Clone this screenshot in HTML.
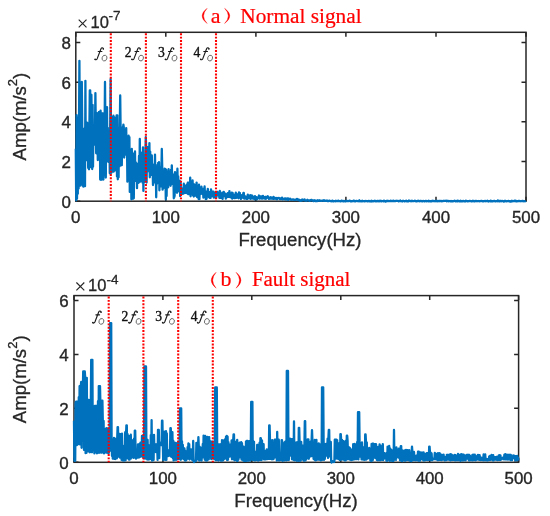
<!DOCTYPE html>
<html><head><meta charset="utf-8"><style>
html,body{margin:0;padding:0;background:#fff;width:550px;height:516px;overflow:hidden}
svg{display:block;will-change:transform}
</style></head><body>
<svg width="550" height="516" viewBox="0 0 550 516">
<rect width="550" height="516" fill="#fff"/>
<!-- top plot -->
<rect x="75.8" y="32.3" width="450.2" height="168.9" fill="none" stroke="#262626" stroke-width="1.5"/>
<path d="M75.8 201.2h4.5M526.0 201.2h-4.5M75.8 161.5h4.5M526.0 161.5h-4.5M75.8 121.8h4.5M526.0 121.8h-4.5M75.8 82.2h4.5M526.0 82.2h-4.5M75.8 42.5h4.5M526.0 42.5h-4.5M75.8 201.2v-4.5M75.8 32.3v4.5M165.8 201.2v-4.5M165.8 32.3v4.5M255.9 201.2v-4.5M255.9 32.3v4.5M345.9 201.2v-4.5M345.9 32.3v4.5M436.0 201.2v-4.5M436.0 32.3v4.5M526.0 201.2v-4.5M526.0 32.3v4.5" stroke="#262626" stroke-width="1.5" fill="none"/>
<path d="M75.80 148.82 76.20 200.35 76.60 115.11 77.00 198.72 77.40 117.50 77.80 193.85 78.20 117.36 78.60 188.50 79.00 127.47 79.40 60.85 79.80 128.06 80.20 185.67 80.60 129.09 81.00 183.97 81.40 129.35 81.80 81.95 82.20 126.51 82.60 185.72 83.00 161.27 83.40 186.66 83.80 128.87 84.20 185.36 84.60 129.17 85.00 186.21 85.40 80.85 85.80 160.26 86.20 128.31 86.60 159.41 87.00 122.68 87.40 160.13 87.80 123.15 88.20 167.87 88.60 127.21 89.00 169.30 89.40 128.26 89.80 90.45 90.20 90.45 90.60 167.00 91.00 126.47 91.40 94.85 91.80 130.81 92.20 169.11 92.60 104.95 93.00 166.72 93.40 131.32 93.80 144.78 94.20 129.58 94.60 144.51 95.00 127.55 95.40 93.05 95.80 127.70 96.20 153.23 96.60 113.15 97.00 113.15 97.40 125.54 97.80 160.06 98.20 126.12 98.60 159.42 99.00 111.86 99.40 159.51 99.80 111.61 100.20 179.50 100.60 110.70 101.00 179.76 101.40 113.85 101.80 179.72 102.20 113.35 102.60 179.19 103.00 113.36 103.40 179.55 103.80 119.88 104.20 174.71 104.60 127.65 105.00 81.95 105.40 128.00 105.80 177.54 106.20 127.05 106.60 159.50 107.00 107.05 107.40 158.81 107.80 127.82 108.20 161.84 108.60 139.17 109.00 160.18 109.40 139.73 109.80 173.26 110.20 126.78 110.60 79.15 111.00 129.04 111.40 172.81 111.80 117.81 112.20 170.74 112.60 117.02 113.00 171.49 113.40 115.64 113.80 171.51 114.20 117.21 114.60 169.93 115.00 117.87 115.40 170.26 115.80 117.58 116.20 170.27 116.60 115.46 117.00 176.42 117.40 115.37 117.80 179.31 118.20 128.41 118.60 177.36 119.00 128.80 119.40 166.58 119.80 128.55 120.20 95.45 120.60 128.52 121.00 165.45 121.40 127.40 121.80 165.20 122.20 128.43 122.60 155.21 123.00 128.11 123.40 124.65 123.80 127.46 124.20 157.51 124.60 136.17 125.00 154.29 125.40 135.96 125.80 154.68 126.20 128.08 126.60 154.68 127.00 143.49 127.40 181.72 127.80 143.15 128.20 168.41 128.60 135.68 129.00 173.12 129.40 137.18 129.80 191.93 130.20 154.15 130.60 179.48 131.00 154.48 131.40 199.35 131.80 148.87 132.20 184.76 132.60 153.63 133.00 198.85 133.40 153.72 133.80 198.24 134.20 154.09 134.60 180.51 135.00 151.42 135.40 180.88 135.80 162.37 136.20 178.08 136.60 163.30 137.00 188.17 137.40 167.09 137.80 182.59 138.20 167.13 138.60 182.73 139.00 155.97 139.40 181.89 139.80 138.95 140.20 181.61 140.60 157.96 141.00 180.76 141.40 157.74 141.80 180.95 142.20 152.34 142.60 182.68 143.00 147.36 143.40 190.94 143.80 154.92 144.20 182.15 144.60 155.04 145.00 181.43 145.40 155.14 145.80 137.15 146.20 148.46 146.60 182.53 147.00 147.79 147.40 171.62 147.80 147.19 148.20 167.82 148.60 149.18 149.00 168.26 149.40 143.09 149.80 177.23 150.20 151.55 150.60 173.60 151.00 160.17 151.40 174.95 151.80 155.49 152.20 174.87 152.60 165.82 153.00 185.05 153.40 165.19 153.80 182.08 154.20 164.39 154.60 182.46 155.00 154.68 155.40 182.84 155.80 165.01 156.20 197.35 156.60 170.39 157.00 183.60 157.40 170.17 157.80 183.21 158.20 162.82 158.60 183.33 159.00 162.19 159.40 190.30 159.80 168.15 160.20 184.54 160.60 167.27 161.00 186.34 161.40 171.13 161.80 148.95 162.20 166.87 162.60 189.66 163.00 174.69 163.40 188.26 163.80 174.65 164.20 187.53 164.60 168.66 165.00 186.93 165.40 168.84 165.80 199.35 166.20 169.96 166.60 195.99 167.00 171.80 167.40 186.17 167.80 172.80 168.20 187.30 168.60 169.17 169.00 183.24 169.40 173.24 169.80 183.45 170.20 172.81 170.60 185.73 171.00 169.87 171.40 184.12 171.80 165.39 172.20 180.01 172.60 174.11 173.00 181.08 173.40 174.59 173.80 198.35 174.20 177.21 174.60 196.63 175.00 172.14 175.40 191.43 175.80 175.24 176.20 191.57 176.60 173.50 177.00 192.83 177.40 168.76 177.80 187.84 178.20 176.29 178.60 190.85 179.00 185.17 179.40 191.66 179.80 180.95 180.20 196.18 180.60 182.27 181.00 191.98 181.40 188.65 181.80 193.53 182.20 188.65 182.60 193.89 183.00 189.00 183.40 193.58 183.80 183.75 184.20 192.81 184.60 186.16 185.00 192.09 185.40 185.67 185.80 192.97 186.20 185.76 186.60 192.54 187.00 184.50 187.40 193.41 187.80 182.75 188.20 194.21 188.60 183.13 189.00 194.08 189.40 182.52 189.80 193.55 190.20 177.57 190.60 196.26 191.00 183.01 191.40 193.96 191.80 183.61 192.20 193.95 192.60 180.52 193.00 195.46 193.40 184.50 193.80 196.55 194.20 184.33 194.60 195.15 195.00 184.96 195.40 195.59 195.80 185.48 196.20 195.48 196.60 182.56 197.00 197.08 197.40 187.22 197.80 193.44 198.20 188.89 198.60 199.05 199.00 184.69 199.40 199.13 199.80 189.75 200.20 193.22 200.60 189.39 201.00 193.94 201.40 186.60 201.80 193.71 202.20 189.96 202.60 193.38 203.00 188.99 203.40 197.69 203.80 189.29 204.20 194.73 204.60 186.47 205.00 195.06 205.40 191.30 205.80 199.11 206.20 192.13 206.60 198.78 207.00 191.49 207.40 196.18 207.80 188.86 208.20 196.36 208.60 192.22 209.00 197.23 209.40 192.23 209.80 197.91 210.20 192.12 210.60 197.83 211.00 189.35 211.40 196.08 211.80 192.48 212.20 196.04 212.60 191.59 213.00 195.59 213.40 191.56 213.80 197.65 214.20 192.82 214.60 197.06 215.00 192.72 215.40 197.45 215.80 193.02 216.20 197.83 216.60 193.21 217.00 195.67 217.40 191.97 217.80 195.45 218.20 194.44 218.60 195.64 219.00 194.50 219.40 197.82 219.80 190.90 220.20 197.76 220.60 193.82 221.00 197.31 221.40 193.33 221.80 197.80 222.20 192.77 222.60 198.88 223.00 193.76 223.40 195.84 223.80 191.80 224.20 196.18 224.60 193.84 225.00 196.44 225.40 193.76 225.80 198.57 226.20 194.13 226.60 197.10 227.00 194.10 227.40 196.99 227.80 193.05 228.20 196.04 228.60 193.19 229.00 196.90 229.40 191.08 229.80 196.99 230.20 193.86 230.60 197.46 231.00 194.60 231.40 196.47 231.80 192.59 232.20 198.61 232.60 192.78 233.00 197.48 233.40 195.21 233.80 197.87 234.20 194.90 234.60 198.21 235.00 195.51 235.40 197.90 235.80 192.65 236.20 197.80 236.60 194.32 237.00 197.65 237.40 194.31 237.80 197.24 238.20 194.00 238.60 198.25 239.00 192.40 239.40 196.61 239.80 192.91 240.20 197.09 240.60 196.83 241.00 198.96 241.40 197.23 241.80 197.85 242.20 194.83 242.60 197.54 243.00 195.29 243.40 192.95 243.80 192.95 244.20 198.61 244.60 195.80 245.00 198.50 245.40 197.69 245.80 197.74 246.20 196.74 246.60 198.81 247.00 196.61 247.40 198.80 247.80 194.68 248.20 198.16 248.60 196.12 249.00 198.09 249.40 196.02 249.80 198.39 250.20 195.16 250.60 198.80 251.00 195.97 251.40 198.34 251.80 195.31 252.20 197.76 252.60 196.12 253.00 198.60 253.40 197.14 253.80 197.72 254.20 197.13 254.60 199.25 255.00 196.21 255.40 197.37 255.80 197.25 256.20 197.45 256.60 197.21 257.00 199.30 257.40 197.82 257.80 197.52 258.20 197.61 258.60 197.37 259.00 195.54 259.40 198.63 259.80 196.08 260.20 198.44 260.60 196.65 261.00 198.36 261.40 196.40 261.80 198.59 262.20 197.55 262.60 198.45 263.00 195.92 263.40 198.25 263.80 197.69 264.20 198.08 264.60 197.31 265.00 198.65 265.40 196.83 265.80 198.90 266.20 196.93 266.60 197.11 267.00 197.51 267.40 197.34 267.80 196.25 268.20 198.09 268.60 197.53 269.00 198.83 269.40 197.76 269.80 198.35 270.20 197.52 270.60 198.56 271.00 197.25 271.40 198.61 271.80 198.18 272.20 198.50 272.60 197.81 273.00 198.85 273.40 196.89 273.80 198.71 274.20 198.20 274.60 197.66 275.00 198.90 275.40 198.27 275.80 198.10 276.20 198.39 276.60 197.93 277.00 199.27 277.40 198.35 277.80 198.06 278.20 198.01 278.60 198.13 279.00 197.87 279.40 198.45 279.80 199.04 280.20 199.22 280.60 199.12 281.00 198.46 281.40 197.92 281.80 198.41 282.20 197.80 282.60 199.38 283.00 199.13 283.40 199.17 283.80 198.91 284.20 198.89 284.60 198.41 285.00 199.22 285.40 198.56 285.80 199.53 286.20 198.64 286.60 199.36 287.00 198.79 287.40 199.34 287.80 198.41 288.20 199.92 288.60 198.69 289.00 198.97 289.40 199.04 289.80 198.88 290.20 198.69 290.60 199.28 291.00 199.79 291.40 199.74 291.80 199.63 292.20 199.45 292.60 199.71 293.00 199.57 293.40 199.40 293.80 199.89 294.20 199.66 294.60 199.97 295.00 200.00 295.40 199.85 295.80 199.77 296.20 199.54 296.60 199.06 297.00 199.62 297.40 199.08 297.80 199.47 298.20 200.06 298.60 199.70 299.00 199.68 299.40 199.76 299.80 200.62 300.20 200.44 300.60 200.69 301.00 200.20 301.40 200.60 301.80 200.11 302.20 199.48 302.60 200.34 303.00 200.12 303.40 200.11 303.80 199.74 304.20 199.97 304.60 199.43 305.00 200.59 305.40 200.53 305.80 200.60 306.20 200.75 306.60 200.32 307.00 200.31 307.40 199.82 307.80 200.12 308.20 200.43 308.60 200.39 309.00 200.56 309.40 200.82 309.80 200.53 310.20 200.21 310.60 200.43 311.00 199.80 311.40 199.80 311.80 199.84 312.20 200.49 312.60 200.39 313.00 200.88 313.40 201.14 313.80 200.57 314.20 200.25 314.60 200.39 315.00 200.42 315.40 201.15 315.80 201.06 316.20 200.75 316.60 201.15 317.00 201.16 317.40 200.68 317.80 200.16 318.20 200.76 318.60 200.57 319.00 200.53 319.40 200.74 319.80 200.29 320.20 200.62 320.60 200.86 321.00 200.90 321.40 200.92 321.80 200.70 322.20 200.72 322.60 200.71 323.00 200.59 323.40 200.44 323.80 200.70 324.20 200.26 324.60 200.83 325.00 200.94 325.40 200.73 325.80 200.87 326.20 200.90 326.60 200.52 327.00 200.48 327.40 201.04 327.80 201.03 328.20 201.16 328.60 200.97 329.00 200.75 329.40 200.76 329.80 200.60 330.20 201.12 330.60 201.17 331.00 201.05 331.40 201.20 331.80 201.29 332.20 200.55 332.60 200.58 333.00 201.24 333.40 201.08 333.80 201.29 334.20 201.09 334.60 201.07 335.00 201.17 335.40 201.25 335.80 200.76 336.20 200.80 336.60 201.19 337.00 201.10 337.40 200.97 337.80 201.04 338.20 200.73 338.60 200.76 339.00 201.16 339.40 201.11 339.80 201.07 340.20 201.27 340.60 201.33 341.00 201.23 341.40 200.74 341.80 200.65 342.20 201.07 342.60 201.16 343.00 201.16 343.40 201.32 343.80 200.92 344.20 201.10 344.60 201.05 345.00 201.34 345.40 201.40 345.80 201.19 346.20 201.16 346.60 200.67 347.00 201.15 347.40 201.22 347.80 201.14 348.20 201.14 348.60 201.08 349.00 201.04 349.40 200.62 349.80 200.70 350.20 200.99 350.60 201.28 351.00 201.11 351.40 201.28 351.80 201.20 352.20 201.26 352.60 201.11 353.00 201.20 353.40 200.82 353.80 200.58 354.20 200.79 354.60 201.28 355.00 201.18 355.40 201.34 355.80 201.09 356.20 200.99 356.60 200.81 357.00 201.01 357.40 201.09 357.80 201.14 358.20 201.08 358.60 201.24 359.00 200.84 359.40 200.31 359.80 201.31 360.20 201.28 360.60 201.19 361.00 201.12 361.40 201.16 361.80 201.33 362.20 200.77 362.60 201.14 363.00 201.30 363.40 201.13 363.80 201.17 364.20 201.24 364.60 201.22 365.00 201.34 365.40 200.85 365.80 201.16 366.20 201.10 366.60 201.01 367.00 201.10 367.40 201.32 367.80 201.07 368.20 201.24 368.60 200.83 369.00 200.83 369.40 201.33 369.80 201.27 370.20 201.30 370.60 201.32 371.00 201.46 371.40 200.74 371.80 201.03 372.20 201.33 372.60 201.17 373.00 201.19 373.40 201.22 373.80 201.31 374.20 200.85 374.60 200.76 375.00 201.17 375.40 200.96 375.80 201.31 376.20 201.29 376.60 201.15 377.00 201.01 377.40 200.83 377.80 200.85 378.20 201.39 378.60 200.89 379.00 201.14 379.40 200.91 379.80 201.20 380.20 200.77 380.60 201.00 381.00 200.92 381.40 201.34 381.80 201.02 382.20 201.14 382.60 201.17 383.00 201.08 383.40 201.25 383.80 200.65 384.20 200.85 384.60 200.89 385.00 201.27 385.40 201.59 385.80 201.23 386.20 201.15 386.60 201.29 387.00 200.76 387.40 201.09 387.80 201.04 388.20 200.94 388.60 201.06 389.00 201.10 389.40 201.20 389.80 201.13 390.20 200.98 390.60 200.61 391.00 201.04 391.40 201.11 391.80 200.99 392.20 201.21 392.60 201.20 393.00 200.75 393.40 201.00 393.80 200.65 394.20 201.15 394.60 201.07 395.00 201.08 395.40 201.13 395.80 200.87 396.20 200.68 396.60 200.86 397.00 200.86 397.40 200.91 397.80 200.86 398.20 201.08 398.60 201.34 399.00 201.07 399.40 201.21 399.80 201.11 400.20 200.53 400.60 201.00 401.00 201.15 401.40 201.05 401.80 201.05 402.20 201.47 402.60 200.93 403.00 200.74 403.40 200.87 403.80 201.08 404.20 201.28 404.60 201.06 405.00 201.23 405.40 201.10 405.80 200.82 406.20 200.73 406.60 201.08 407.00 201.45 407.40 201.25 407.80 201.13 408.20 201.24 408.60 201.30 409.00 200.47 409.40 200.85 409.80 200.84 410.20 201.05 410.60 201.13 411.00 201.30 411.40 201.22 411.80 200.73 412.20 200.89 412.60 200.98 413.00 201.20 413.40 201.15 413.80 201.18 414.20 200.97 414.60 200.84 415.00 200.72 415.40 200.86 415.80 201.38 416.20 201.17 416.60 201.16 417.00 201.35 417.40 201.09 417.80 200.86 418.20 200.67 418.60 200.91 419.00 201.18 419.40 201.29 419.80 201.08 420.20 200.93 420.60 200.85 421.00 200.95 421.40 201.21 421.80 201.24 422.20 201.29 422.60 201.24 423.00 201.02 423.40 201.04 423.80 201.01 424.20 201.15 424.60 201.30 425.00 201.17 425.40 200.88 425.80 200.90 426.20 200.96 426.60 201.23 427.00 201.05 427.40 201.05 427.80 201.11 428.20 201.32 428.60 200.75 429.00 200.78 429.40 201.22 429.80 201.32 430.20 201.06 430.60 201.19 431.00 201.34 431.40 201.32 431.80 201.17 432.20 200.70 432.60 200.90 433.00 201.10 433.40 201.06 433.80 200.96 434.20 201.06 434.60 201.06 435.00 201.26 435.40 201.21 435.80 200.74 436.20 200.87 436.60 201.11 437.00 201.15 437.40 201.33 437.80 200.84 438.20 201.06 438.60 201.12 439.00 201.27 439.40 201.06 439.80 200.86 440.20 200.85 440.60 201.15 441.00 200.94 441.40 201.10 441.80 201.35 442.20 201.07 442.60 201.15 443.00 200.85 443.40 200.89 443.80 201.04 444.20 200.97 444.60 200.95 445.00 200.94 445.40 200.91 445.80 200.80 446.20 200.68 446.60 201.19 447.00 200.96 447.40 200.96 447.80 201.04 448.20 200.90 448.60 201.32 449.00 201.20 449.40 201.11 449.80 201.02 450.20 201.08 450.60 201.35 451.00 200.89 451.40 201.34 451.80 201.12 452.20 201.34 452.60 201.05 453.00 201.28 453.40 201.20 453.80 201.18 454.20 200.83 454.60 200.75 455.00 200.87 455.40 201.29 455.80 201.09 456.20 201.31 456.60 201.13 457.00 200.83 457.40 201.38 457.80 200.76 458.20 200.81 458.60 201.06 459.00 201.30 459.40 201.25 459.80 201.28 460.20 201.32 460.60 200.63 461.00 201.33 461.40 201.20 461.80 201.23 462.20 201.10 462.60 201.29 463.00 201.08 463.40 200.86 463.80 201.26 464.20 201.24 464.60 201.43 465.00 201.15 465.40 201.26 465.80 200.67 466.20 200.79 466.60 201.20 467.00 201.09 467.40 201.26 467.80 201.25 468.20 201.28 468.60 201.13 469.00 201.26 469.40 200.81 469.80 200.82 470.20 200.84 470.60 201.16 471.00 201.20 471.40 201.30 471.80 201.32 472.20 201.26 472.60 200.90 473.00 200.62 473.40 201.13 473.80 201.32 474.20 201.32 474.60 201.34 475.00 200.94 475.40 200.90 475.80 201.18 476.20 200.97 476.60 201.08 477.00 201.28 477.40 201.08 477.80 201.17 478.20 201.02 478.60 201.09 479.00 201.09 479.40 201.30 479.80 201.20 480.20 201.11 480.60 201.19 481.00 200.91 481.40 200.83 481.80 200.84 482.20 201.14 482.60 201.34 483.00 201.46 483.40 201.21 483.80 201.15 484.20 201.11 484.60 201.00 485.00 200.87 485.40 201.09 485.80 201.28 486.20 201.11 486.60 201.21 487.00 201.07 487.40 200.78 487.80 201.00 488.20 201.34 488.60 201.48 489.00 201.27 489.40 201.08 489.80 201.12 490.20 201.31 490.60 200.59 491.00 201.00 491.40 201.30 491.80 201.08 492.20 201.25 492.60 201.26 493.00 201.30 493.40 201.08 493.80 201.03 494.20 200.82 494.60 200.90 495.00 201.27 495.40 201.22 495.80 201.35 496.20 201.25 496.60 201.09 497.00 201.10 497.40 201.24 497.80 200.39 498.20 200.99 498.60 201.12 499.00 201.40 499.40 201.04 499.80 201.34 500.20 200.81 500.60 200.85 501.00 201.06 501.40 201.25 501.80 201.03 502.20 200.95 502.60 201.06 503.00 201.10 503.40 201.24 503.80 201.60 504.20 201.18 504.60 201.23 505.00 200.74 505.40 201.12 505.80 201.24 506.20 201.38 506.60 201.22 507.00 201.17 507.40 201.23 507.80 201.17 508.20 201.07 508.60 200.85 509.00 201.23 509.40 201.21 509.80 201.25 510.20 201.59 510.60 201.33 511.00 201.54 511.40 200.98 511.80 201.07 512.20 200.87 512.60 201.34 513.00 201.24 513.40 201.04 513.80 201.03 514.20 200.99 514.60 200.64 515.00 201.12 515.40 200.81 515.80 201.27 516.20 200.90 516.60 201.18 517.00 201.25 517.40 201.13 517.80 201.28 518.20 201.23 518.60 200.83 519.00 200.78 519.40 201.03 519.80 201.07 520.20 201.17 520.60 201.23 521.00 201.22 521.40 201.16 521.80 201.21 522.20 200.79 522.60 200.85 523.00 201.07 523.40 201.30 523.80 201.08 524.20 201.21 524.60 201.06 525.00 201.31 525.40 201.12 525.80 200.70" stroke="#0072BD" stroke-width="2.3" fill="none" stroke-linejoin="round"/>
<line x1="110.8" y1="33.3" x2="110.8" y2="201.2" stroke="#ff0000" stroke-width="2.1" stroke-dasharray="1.9 1.45"/><line x1="145.9" y1="33.3" x2="145.9" y2="201.2" stroke="#ff0000" stroke-width="2.1" stroke-dasharray="1.9 1.45"/><line x1="181.0" y1="33.3" x2="181.0" y2="201.2" stroke="#ff0000" stroke-width="2.1" stroke-dasharray="1.9 1.45"/><line x1="216.0" y1="33.3" x2="216.0" y2="201.2" stroke="#ff0000" stroke-width="2.1" stroke-dasharray="1.9 1.45"/>
<!-- bottom plot -->
<rect x="74.0" y="295.6" width="444.6" height="166.7" fill="none" stroke="#262626" stroke-width="1.5"/>
<path d="M74.0 462.3h4.5M518.6 462.3h-4.5M74.0 408.3h4.5M518.6 408.3h-4.5M74.0 354.4h4.5M518.6 354.4h-4.5M74.0 300.4h4.5M518.6 300.4h-4.5M74.0 462.3v-4.5M74.0 295.6v4.5M162.9 462.3v-4.5M162.9 295.6v4.5M251.8 462.3v-4.5M251.8 295.6v4.5M340.8 462.3v-4.5M340.8 295.6v4.5M429.7 462.3v-4.5M429.7 295.6v4.5M518.6 462.3v-4.5M518.6 295.6v4.5" stroke="#262626" stroke-width="1.5" fill="none"/>
<path d="M74.00 420.85 74.40 460.85 74.80 421.50 75.20 460.82 75.60 403.04 76.00 401.75 76.40 401.75 76.80 445.14 77.20 401.75 77.60 444.60 78.00 404.41 78.40 443.16 78.80 397.25 79.20 444.02 79.60 386.05 80.00 444.43 80.40 386.05 80.80 386.05 81.20 381.95 81.60 447.77 82.00 381.95 82.40 381.95 82.80 394.86 83.20 371.45 83.60 371.45 84.00 449.90 84.40 371.45 84.80 371.45 85.20 377.85 85.60 453.15 86.00 377.85 86.40 452.89 86.80 377.85 87.20 450.91 87.60 399.95 88.00 451.26 88.40 399.95 88.80 399.95 89.20 406.80 89.60 452.35 90.00 408.04 90.40 452.00 90.80 407.04 91.20 359.85 91.60 359.85 92.00 452.35 92.40 359.85 92.80 449.72 93.20 411.72 93.60 449.93 94.00 412.13 94.40 453.38 94.80 405.85 95.20 452.12 95.60 405.85 96.00 405.85 96.40 405.89 96.80 453.31 97.20 405.88 97.60 453.10 98.00 401.20 98.40 452.28 98.80 386.05 99.20 452.81 99.60 386.05 100.00 386.05 100.40 403.72 100.80 452.58 101.20 400.55 101.60 452.64 102.00 400.55 102.40 400.55 102.80 420.54 103.20 452.37 103.60 420.98 104.00 453.46 104.40 429.90 104.80 452.40 105.20 429.09 105.60 452.25 106.00 428.41 106.40 452.71 106.80 428.04 107.20 451.79 107.60 428.67 108.00 453.03 108.40 432.32 108.80 453.07 109.20 432.99 109.60 450.71 110.00 323.05 110.40 450.63 110.80 323.05 111.20 323.05 111.60 438.75 112.00 455.90 112.40 439.48 112.80 458.66 113.20 440.38 113.60 458.45 114.00 438.01 114.40 458.87 114.80 438.37 115.20 458.99 115.60 439.18 116.00 457.00 116.40 439.45 116.80 458.37 117.20 438.45 117.60 427.15 118.00 427.15 118.40 456.66 118.80 438.59 119.20 456.77 119.60 433.98 120.00 457.61 120.40 434.11 120.80 457.62 121.20 433.93 121.60 459.89 122.00 433.62 122.40 460.25 122.80 446.70 123.20 460.44 123.60 445.85 124.00 460.61 124.40 445.56 124.80 460.17 125.20 432.10 125.60 460.30 126.00 434.68 126.40 425.35 126.80 425.35 127.20 458.06 127.60 434.14 128.00 458.17 128.40 435.98 128.80 459.59 129.20 436.14 129.60 459.67 130.00 435.87 130.40 458.28 130.80 434.70 131.20 458.38 131.60 440.01 132.00 456.02 132.40 440.39 132.80 457.00 133.20 440.52 133.60 457.86 134.00 438.70 134.40 457.38 134.80 430.55 135.20 430.55 135.60 451.11 136.00 458.71 136.40 451.86 136.80 458.03 137.20 451.30 137.60 457.34 138.00 444.41 138.40 457.50 138.80 445.75 139.20 457.45 139.60 443.82 140.00 456.85 140.40 442.69 140.80 456.35 141.20 442.72 141.60 455.80 142.00 435.88 142.40 456.58 142.80 439.34 143.20 457.42 143.60 439.73 144.00 458.55 144.40 366.45 144.80 458.12 145.20 366.45 145.60 458.60 146.00 366.45 146.40 458.49 146.80 439.79 147.20 459.51 147.60 439.97 148.00 459.22 148.40 444.96 148.80 459.57 149.20 452.94 149.60 457.89 150.00 453.82 150.40 458.77 150.80 435.09 151.20 458.71 151.60 420.15 152.00 460.71 152.40 441.52 152.80 460.25 153.20 441.55 153.60 460.08 154.00 434.88 154.40 451.61 154.80 444.28 155.20 451.66 155.60 444.28 156.00 452.12 156.40 444.35 156.80 451.31 157.20 444.80 157.60 459.88 158.00 429.86 158.40 455.70 158.80 429.91 159.20 458.18 159.60 442.41 160.00 444.52 160.40 442.91 160.80 444.94 161.20 443.65 161.60 445.10 162.00 420.65 162.40 420.65 162.80 442.60 163.20 459.91 163.60 441.58 164.00 459.70 164.40 431.67 164.80 459.35 165.20 431.54 165.60 459.86 166.00 431.03 166.40 459.95 166.80 433.52 167.20 455.82 167.60 450.66 168.00 456.17 168.40 450.51 168.80 455.73 169.20 451.78 169.60 455.59 170.00 451.02 170.40 428.15 170.80 428.15 171.20 456.81 171.60 434.25 172.00 456.40 172.40 432.25 172.80 458.02 173.20 440.63 173.60 460.38 174.00 442.97 174.40 459.63 174.80 442.61 175.20 459.51 175.60 442.78 176.00 459.97 176.40 443.04 176.80 459.53 177.20 444.55 177.60 458.57 178.00 441.75 178.40 458.92 178.80 441.62 179.20 459.03 179.60 443.66 180.00 408.45 180.40 408.45 180.80 459.84 181.20 408.45 181.60 457.87 182.00 441.31 182.40 458.39 182.80 444.81 183.20 458.80 183.60 447.80 184.00 458.75 184.40 448.41 184.80 460.37 185.20 450.77 185.60 460.60 186.00 451.14 186.40 460.06 186.80 451.50 187.20 458.68 187.60 447.05 188.00 458.48 188.40 443.49 188.80 458.82 189.20 444.10 189.60 459.51 190.00 449.11 190.40 457.88 190.80 449.31 191.20 458.33 191.60 449.32 192.00 459.83 192.40 449.07 192.80 460.45 193.20 441.01 193.60 460.27 194.00 462.05 194.40 460.86 194.80 460.98 195.20 461.09 195.60 461.08 196.00 461.03 196.40 442.86 196.80 458.64 197.20 443.66 197.60 459.40 198.00 447.05 198.40 437.05 198.80 446.76 199.20 460.51 199.60 446.74 200.00 460.29 200.40 447.48 200.80 459.88 201.20 447.56 201.60 460.51 202.00 447.60 202.40 457.84 202.80 443.93 203.20 457.27 203.60 435.57 204.00 456.90 204.40 437.08 204.80 459.67 205.20 435.80 205.60 460.42 206.00 437.02 206.40 460.68 206.80 438.07 207.20 460.36 207.60 437.01 208.00 459.41 208.40 437.85 208.80 459.26 209.20 437.27 209.60 455.29 210.00 442.71 210.40 456.36 210.80 441.42 211.20 459.00 211.60 441.81 212.00 458.62 212.40 441.53 212.80 458.45 213.20 444.89 213.60 458.18 214.00 445.29 214.40 459.26 214.80 445.26 215.20 387.45 215.60 387.45 216.00 460.35 216.40 387.45 216.80 387.45 217.20 447.32 217.60 459.98 218.00 445.70 218.40 460.49 218.80 444.32 219.20 459.71 219.60 444.33 220.00 459.29 220.40 444.79 220.80 460.62 221.20 443.97 221.60 460.48 222.00 440.20 222.40 460.54 222.80 440.56 223.20 460.33 223.60 440.47 224.00 458.03 224.40 440.62 224.80 458.74 225.20 439.14 225.60 458.42 226.00 436.65 226.40 458.15 226.80 435.85 227.20 460.16 227.60 436.75 228.00 459.81 228.40 442.05 228.80 455.85 229.20 446.04 229.60 456.63 230.00 444.71 230.40 455.64 230.80 445.67 231.20 456.47 231.60 440.43 232.00 459.28 232.40 440.28 232.80 458.96 233.20 439.96 233.60 434.45 234.00 434.45 234.40 460.24 234.80 441.51 235.20 459.74 235.60 442.57 236.00 459.98 236.40 441.85 236.80 460.75 237.20 439.83 237.60 460.97 238.00 443.31 238.40 459.81 238.80 443.21 239.20 457.24 239.60 442.72 240.00 457.25 240.40 442.82 240.80 457.15 241.20 442.14 241.60 459.61 242.00 443.27 242.40 459.03 242.80 447.37 243.20 460.55 243.60 446.58 244.00 460.92 244.40 447.21 244.80 460.07 245.20 448.14 245.60 460.92 246.00 441.37 246.40 460.89 246.80 440.93 247.20 460.71 247.60 440.85 248.00 460.57 248.40 441.48 248.80 460.56 249.20 441.11 249.60 460.26 250.00 446.06 250.40 460.48 250.80 445.86 251.20 401.85 251.60 401.85 252.00 459.32 252.40 401.85 252.80 460.04 253.20 440.92 253.60 459.68 254.00 441.87 254.40 460.25 254.80 451.55 255.20 460.46 255.60 451.99 256.00 459.77 256.40 452.41 256.80 459.76 257.20 444.90 257.60 460.39 258.00 444.90 258.40 460.49 258.80 445.34 259.20 459.36 259.60 442.53 260.00 460.04 260.40 438.15 260.80 438.15 261.20 440.87 261.60 460.09 262.00 440.44 262.40 458.30 262.80 445.26 263.20 458.27 263.60 444.25 264.00 459.40 264.40 451.45 264.80 459.32 265.20 451.23 265.60 459.36 266.00 450.73 266.40 459.03 266.80 449.42 267.20 459.17 267.60 449.89 268.00 457.74 268.40 449.84 268.80 458.87 269.20 425.35 269.60 425.35 270.00 440.44 270.40 458.85 270.80 440.26 271.20 459.10 271.60 440.48 272.00 459.38 272.40 440.04 272.80 459.08 273.20 443.76 273.60 459.09 274.00 443.90 274.40 457.30 274.80 439.77 275.20 457.26 275.60 439.59 276.00 457.42 276.40 439.94 276.80 460.60 277.20 431.95 277.60 459.69 278.00 440.17 278.40 460.28 278.80 439.66 279.20 460.25 279.60 459.18 280.00 460.22 280.40 459.72 280.80 459.75 281.20 459.04 281.60 440.15 282.00 440.15 282.40 460.84 282.80 444.59 283.20 460.24 283.60 444.95 284.00 460.57 284.40 442.34 284.80 459.33 285.20 441.61 285.60 460.15 286.00 441.24 286.40 460.45 286.80 370.95 287.20 459.92 287.60 370.95 288.00 370.95 288.40 443.92 288.80 459.98 289.20 443.47 289.60 455.41 290.00 438.73 290.40 455.45 290.80 439.54 291.20 455.89 291.60 439.15 292.00 459.32 292.40 439.08 292.80 458.98 293.20 451.96 293.60 459.90 294.00 421.45 294.40 460.27 294.80 452.16 295.20 460.05 295.60 452.13 296.00 460.09 296.40 442.35 296.80 460.78 297.20 442.46 297.60 460.31 298.00 443.02 298.40 460.82 298.80 427.85 299.20 427.85 299.60 442.10 300.00 460.78 300.40 442.71 300.80 460.58 301.20 441.85 301.60 454.36 302.00 445.53 302.40 454.52 302.80 445.61 303.20 459.98 303.60 454.63 304.00 460.73 304.40 448.03 304.80 421.15 305.20 421.15 305.60 460.40 306.00 440.00 306.40 458.98 306.80 439.83 307.20 458.07 307.60 439.49 308.00 458.16 308.40 439.31 308.80 458.73 309.20 442.17 309.60 456.87 310.00 442.02 310.40 456.13 310.80 441.51 311.20 456.22 311.60 440.25 312.00 430.15 312.40 439.88 312.80 456.24 313.20 450.39 313.60 458.99 314.00 450.45 314.40 459.54 314.80 439.87 315.20 460.30 315.60 440.26 316.00 460.30 316.40 439.86 316.80 458.88 317.20 443.76 317.60 459.64 318.00 443.73 318.40 459.54 318.80 443.44 319.20 459.54 319.60 444.05 320.00 459.88 320.40 450.98 320.80 460.33 321.20 451.67 321.60 460.08 322.00 387.35 322.40 459.76 322.80 387.35 323.20 387.35 323.60 439.14 324.00 459.89 324.40 443.83 324.80 459.04 325.20 444.10 325.60 455.85 326.00 443.83 326.40 455.59 326.80 445.12 327.20 455.01 327.60 438.66 328.00 457.97 328.40 438.42 328.80 429.95 329.20 429.95 329.60 456.33 330.00 443.14 330.40 456.24 330.80 441.98 331.20 461.15 331.60 462.54 332.00 460.86 332.40 461.32 332.80 461.40 333.20 461.56 333.60 461.15 334.00 462.06 334.40 460.88 334.80 439.68 335.20 458.23 335.60 439.67 336.00 458.62 336.40 439.73 336.80 458.38 337.20 440.26 337.60 458.32 338.00 443.65 338.40 459.11 338.80 443.43 339.20 458.60 339.60 444.02 340.00 460.12 340.40 434.15 340.80 434.15 341.20 440.32 341.60 459.58 342.00 439.78 342.40 459.28 342.80 442.26 343.20 459.68 343.60 441.03 344.00 459.48 344.40 442.01 344.80 460.43 345.20 451.80 345.60 460.36 346.00 440.72 346.40 459.62 346.80 435.75 347.20 435.75 347.60 440.81 348.00 459.15 348.40 447.71 348.80 459.21 349.20 447.40 349.60 459.58 350.00 448.08 350.40 459.65 350.80 449.86 351.20 460.22 351.60 449.64 352.00 459.44 352.40 450.17 352.80 459.82 353.20 444.16 353.60 459.28 354.00 444.06 354.40 459.26 354.80 443.92 355.20 458.22 355.60 445.03 356.00 459.16 356.40 445.87 356.80 459.03 357.20 441.93 357.60 458.89 358.00 412.15 358.40 459.47 358.80 412.15 359.20 412.15 359.60 442.44 360.00 456.72 360.40 442.87 360.80 456.16 361.20 443.30 361.60 459.47 362.00 442.44 362.40 459.45 362.80 447.62 363.20 459.63 363.60 447.43 364.00 459.70 364.40 447.37 364.80 459.90 365.20 434.45 365.60 434.45 366.00 442.65 366.40 459.59 366.80 442.47 367.20 458.75 367.60 451.70 368.00 458.36 368.40 451.34 368.80 458.07 369.20 448.02 369.60 458.06 370.00 448.61 370.40 460.72 370.80 448.86 371.20 460.99 371.60 443.94 372.00 460.70 372.40 443.72 372.80 460.39 373.20 443.72 373.60 457.79 374.00 444.43 374.40 457.68 374.80 444.27 375.20 457.90 375.60 444.15 376.00 444.15 376.40 447.99 376.80 459.93 377.20 447.30 377.60 460.23 378.00 446.78 378.40 460.17 378.80 446.73 379.20 459.91 379.60 444.37 380.00 460.11 380.40 445.77 380.80 460.22 381.20 446.22 381.60 459.33 382.00 447.47 382.40 459.73 382.80 444.15 383.20 460.02 383.60 453.18 384.00 458.55 384.40 453.23 384.80 458.12 385.20 453.62 385.60 458.16 386.00 453.50 386.40 460.59 386.80 453.00 387.20 460.78 387.60 446.64 388.00 459.55 388.40 446.33 388.80 459.59 389.20 445.91 389.60 460.76 390.00 448.33 390.40 460.63 390.80 449.36 391.20 459.97 391.60 450.23 392.00 460.77 392.40 451.92 392.80 460.74 393.20 452.37 393.60 460.86 394.00 429.95 394.40 459.81 394.80 449.82 395.20 459.04 395.60 448.51 396.00 459.90 396.40 447.35 396.80 457.07 397.20 451.68 397.60 456.97 398.00 451.64 398.40 457.54 398.80 448.64 399.20 457.09 399.60 448.55 400.00 460.38 400.40 450.15 400.80 446.15 401.20 446.15 401.60 460.86 402.00 450.25 402.40 461.04 402.80 450.73 403.20 460.22 403.60 450.92 404.00 459.70 404.40 450.38 404.80 460.67 405.20 450.11 405.60 460.62 406.00 449.83 406.40 459.41 406.80 450.13 407.20 459.86 407.60 450.15 408.00 460.22 408.40 450.49 408.80 459.92 409.20 450.19 409.60 460.62 410.00 454.36 410.40 460.87 410.80 455.14 411.20 461.13 411.60 452.00 412.00 446.65 412.40 452.14 412.80 460.44 413.20 452.19 413.60 459.98 414.00 452.00 414.40 459.08 414.80 455.64 415.20 460.47 415.60 456.23 416.00 460.09 416.40 455.74 416.80 460.12 417.20 456.28 417.60 459.98 418.00 451.69 418.40 460.60 418.80 451.57 419.20 460.33 419.60 452.26 420.00 460.59 420.40 452.34 420.80 459.49 421.20 452.62 421.60 459.09 422.00 452.68 422.40 458.73 422.80 452.72 423.20 460.30 423.60 452.48 424.00 460.27 424.40 454.40 424.80 460.30 425.20 453.92 425.60 460.07 426.00 454.56 426.40 459.92 426.80 453.26 427.20 459.72 427.60 453.20 428.00 460.17 428.40 453.14 428.80 459.70 429.20 446.65 429.60 446.65 430.00 453.39 430.40 460.20 430.80 452.55 431.20 459.67 431.60 453.52 432.00 460.16 432.40 458.42 432.80 459.36 433.20 458.70 433.60 458.96 434.00 459.29 434.40 459.11 434.80 452.90 435.20 458.96 435.60 454.17 436.00 459.46 436.40 453.78 436.80 459.01 437.20 453.77 437.60 460.19 438.00 453.21 438.40 459.99 438.80 453.52 439.20 459.53 439.60 453.16 440.00 459.83 440.40 454.16 440.80 459.33 441.20 455.61 441.60 460.11 442.00 454.78 442.40 459.61 442.80 455.32 443.20 459.69 443.60 454.66 444.00 458.89 444.40 457.63 444.80 460.42 445.20 457.24 445.60 459.80 446.00 457.09 446.40 460.01 446.80 454.96 447.20 459.47 447.60 454.86 448.00 459.68 448.40 454.91 448.80 459.18 449.20 455.21 449.60 459.78 450.00 454.41 450.40 460.42 450.80 454.23 451.20 459.96 451.60 454.59 452.00 460.02 452.40 455.15 452.80 459.61 453.20 455.68 453.60 459.95 454.00 455.43 454.40 460.14 454.80 454.89 455.20 460.37 455.60 455.22 456.00 459.42 456.40 456.08 456.80 460.18 457.20 459.25 457.60 460.10 458.00 453.96 458.40 460.12 458.80 454.76 459.20 460.18 459.60 454.85 460.00 460.05 460.40 460.72 460.80 460.36 461.20 454.17 461.60 460.43 462.00 454.51 462.40 460.31 462.80 454.74 463.20 460.42 463.60 454.75 464.00 460.18 464.40 455.22 464.80 459.73 465.20 455.65 465.60 460.35 466.00 455.47 466.40 458.53 466.80 454.84 467.20 458.71 467.60 454.99 468.00 457.89 468.40 454.93 468.80 460.28 469.20 454.99 469.60 460.46 470.00 455.63 470.40 460.12 470.80 456.81 471.20 460.00 471.60 456.35 472.00 459.28 472.40 454.79 472.80 460.47 473.20 454.74 473.60 459.88 474.00 454.79 474.40 459.55 474.80 454.71 475.20 460.29 475.60 457.86 476.00 460.04 476.40 458.56 476.80 459.67 477.20 455.53 477.60 459.17 478.00 454.90 478.40 459.58 478.80 455.04 479.20 459.78 479.60 455.13 480.00 459.09 480.40 457.71 480.80 460.13 481.20 457.66 481.60 459.30 482.00 457.82 482.40 459.74 482.80 458.30 483.20 460.26 483.60 454.46 484.00 460.01 484.40 455.08 484.80 460.13 485.20 454.30 485.60 460.09 486.00 458.56 486.40 459.97 486.80 459.25 487.20 460.45 487.60 459.16 488.00 459.75 488.40 458.95 488.80 460.05 489.20 456.33 489.60 459.66 490.00 456.02 490.40 459.88 490.80 455.71 491.20 459.49 491.60 454.93 492.00 459.63 492.40 455.44 492.80 460.28 493.20 455.24 493.60 460.30 494.00 457.38 494.40 459.46 494.80 457.20 495.20 459.52 495.60 457.13 496.00 459.45 496.40 456.93 496.80 459.89 497.20 456.93 497.60 460.16 498.00 456.92 498.40 459.81 498.80 455.42 499.20 459.93 499.60 455.05 500.00 459.74 500.40 455.37 500.80 459.86 501.20 457.90 501.60 458.61 502.00 458.28 502.40 457.77 502.80 458.55 503.20 459.25 503.60 457.68 504.00 458.36 504.40 454.69 504.80 459.40 505.20 454.23 505.60 458.97 506.00 454.80 506.40 459.36 506.80 454.70 507.20 458.62 507.60 454.85 508.00 459.54 508.40 454.88 508.80 457.62 509.20 454.99 509.60 458.71 510.00 454.98 510.40 460.14 510.80 454.91 511.20 459.37 511.60 458.53 512.00 460.11 512.40 458.43 512.80 458.01 513.20 455.32 513.60 457.21 514.00 455.67 514.40 458.06 514.80 456.73 515.20 460.28 515.60 456.09 516.00 460.26 516.40 456.11 516.80 459.69 517.20 455.89 517.60 460.02 518.00 457.61 518.40 460.35" stroke="#0072BD" stroke-width="2.3" fill="none" stroke-linejoin="round"/>
<line x1="108.7" y1="296.6" x2="108.7" y2="462.3" stroke="#ff0000" stroke-width="2.1" stroke-dasharray="1.9 1.45"/><line x1="143.4" y1="296.6" x2="143.4" y2="462.3" stroke="#ff0000" stroke-width="2.1" stroke-dasharray="1.9 1.45"/><line x1="178.2" y1="296.6" x2="178.2" y2="462.3" stroke="#ff0000" stroke-width="2.1" stroke-dasharray="1.9 1.45"/><line x1="212.8" y1="296.6" x2="212.8" y2="462.3" stroke="#ff0000" stroke-width="2.1" stroke-dasharray="1.9 1.45"/>
<g font-family="Liberation Sans, sans-serif" font-size="16" fill="#262626" stroke="#262626" stroke-width="0.35">
<text x="70.8" y="207.8" text-anchor="end" textLength="9.4" lengthAdjust="spacingAndGlyphs">0</text><text x="70.8" y="168.1" text-anchor="end" textLength="9.4" lengthAdjust="spacingAndGlyphs">2</text><text x="70.8" y="128.4" text-anchor="end" textLength="9.4" lengthAdjust="spacingAndGlyphs">4</text><text x="70.8" y="88.8" text-anchor="end" textLength="9.4" lengthAdjust="spacingAndGlyphs">6</text><text x="70.8" y="49.1" text-anchor="end" textLength="9.4" lengthAdjust="spacingAndGlyphs">8</text>
<text x="75.8" y="222.6" text-anchor="middle" textLength="9.4" lengthAdjust="spacingAndGlyphs">0</text><text x="165.8" y="222.6" text-anchor="middle" textLength="28.1" lengthAdjust="spacingAndGlyphs">100</text><text x="255.9" y="222.6" text-anchor="middle" textLength="28.1" lengthAdjust="spacingAndGlyphs">200</text><text x="345.9" y="222.6" text-anchor="middle" textLength="28.1" lengthAdjust="spacingAndGlyphs">300</text><text x="436.0" y="222.6" text-anchor="middle" textLength="28.1" lengthAdjust="spacingAndGlyphs">400</text><text x="526.0" y="222.6" text-anchor="middle" textLength="28.1" lengthAdjust="spacingAndGlyphs">500</text>
<text x="68.6" y="468.9" text-anchor="end" textLength="9.4" lengthAdjust="spacingAndGlyphs">0</text><text x="68.6" y="414.9" text-anchor="end" textLength="9.4" lengthAdjust="spacingAndGlyphs">2</text><text x="68.6" y="361.0" text-anchor="end" textLength="9.4" lengthAdjust="spacingAndGlyphs">4</text><text x="68.6" y="307.0" text-anchor="end" textLength="9.4" lengthAdjust="spacingAndGlyphs">6</text>
<text x="74.0" y="483.9" text-anchor="middle" textLength="9.4" lengthAdjust="spacingAndGlyphs">0</text><text x="162.9" y="483.9" text-anchor="middle" textLength="28.1" lengthAdjust="spacingAndGlyphs">100</text><text x="251.8" y="483.9" text-anchor="middle" textLength="28.1" lengthAdjust="spacingAndGlyphs">200</text><text x="340.8" y="483.9" text-anchor="middle" textLength="28.1" lengthAdjust="spacingAndGlyphs">300</text><text x="429.7" y="483.9" text-anchor="middle" textLength="28.1" lengthAdjust="spacingAndGlyphs">400</text><text x="518.6" y="483.9" text-anchor="middle" textLength="28.1" lengthAdjust="spacingAndGlyphs">500</text>
</g>
<g font-family="Liberation Sans, sans-serif" fill="#262626" stroke="#262626" stroke-width="0.3">
<path d="M78.7 19.6L86.5 27.4M86.5 19.6L78.7 27.4" stroke="#262626" stroke-width="1.15"/><text x="90.6" y="27.9" font-size="16.5">10</text><text x="108.5" y="20.3" font-size="13.5">-7</text>
<path d="M76.4 282.5L84.3 290.3M84.3 282.5L76.4 290.3" stroke="#262626" stroke-width="1.15"/><text x="88.0" y="290.7" font-size="16.5">10</text><text x="106.6" y="283.6" font-size="13.5">-4</text>
</g>
<g font-family="Liberation Sans, sans-serif" font-size="18" fill="#262626" stroke="#262626" stroke-width="0.3">
<text x="300.0" y="245.7" text-anchor="middle" textLength="123" lengthAdjust="spacingAndGlyphs">Frequency(Hz)</text>
<text x="296.0" y="506.6" text-anchor="middle" textLength="123.5" lengthAdjust="spacingAndGlyphs">Frequency(Hz)</text>
<text transform="translate(25.5,116.6) rotate(-90)" text-anchor="middle" font-size="18.6">Amp(m/s<tspan font-size="13" dy="-8.5">2</tspan><tspan dy="8.5">)</tspan></text>
<text transform="translate(25.5,379.3) rotate(-90)" text-anchor="middle" font-size="18.6">Amp(m/s<tspan font-size="13" dy="-8.5">2</tspan><tspan dy="8.5">)</tspan></text>
</g>
<g font-family="Liberation Serif, serif" font-size="20" fill="#ff0000" stroke="#ff0000" stroke-width="0.2">
<text x="210.8" y="23.4" font-size="22">a</text><text x="240.3" y="23.2" textLength="121.3" lengthAdjust="spacingAndGlyphs">Normal signal</text>
<text x="220.6" y="286.2" font-size="22">b</text><text x="251.9" y="286.2" textLength="98.5" lengthAdjust="spacingAndGlyphs">Fault signal</text>
</g>
<path d="M207.1,8.3Q197.1,15.9 207.1,23.5Q200.1,15.9 207.1,8.3Z" fill="#ff0000" stroke="#ff0000" stroke-width="0.35"/><path d="M224.6,8.3Q235.00000000000003,15.9 224.6,23.5Q232.00000000000003,15.9 224.6,8.3Z" fill="#ff0000" stroke="#ff0000" stroke-width="0.35"/>
<path d="M216.1,272.3Q206.29999999999998,280.25 216.1,288.2Q209.29999999999998,280.25 216.1,272.3Z" fill="#ff0000" stroke="#ff0000" stroke-width="0.35"/><path d="M236.1,272.3Q245.9,280.25 236.1,288.2Q242.9,280.25 236.1,272.3Z" fill="#ff0000" stroke="#ff0000" stroke-width="0.35"/>
<g font-family="Liberation Serif, serif" fill="#111">
<g transform="translate(94.40,47.20)"><path d="M9.0,1.6C8.4,0.2 7.2,0.2 6.6,1.5L2.9,11.2C2.3,12.6 1.1,12.9 0.5,12.2M3.8,4.3H7.5" stroke="#1a1a1a" stroke-width="1.15" fill="none" stroke-linecap="round"/><circle cx="8.9" cy="1.8" r="0.75" fill="#1a1a1a"/><circle cx="0.8" cy="12.0" r="0.75" fill="#1a1a1a"/></g><ellipse cx="104.50" cy="58.10" rx="2.4" ry="2.9" transform="rotate(20 104.50 58.10)" fill="none" stroke="#555" stroke-width="0.8"/><text x="124.7" y="57.2" font-size="13.6" stroke="#111" stroke-width="0.35">2</text><g transform="translate(131.20,47.20)"><path d="M9.0,1.6C8.4,0.2 7.2,0.2 6.6,1.5L2.9,11.2C2.3,12.6 1.1,12.9 0.5,12.2M3.8,4.3H7.5" stroke="#1a1a1a" stroke-width="1.15" fill="none" stroke-linecap="round"/><circle cx="8.9" cy="1.8" r="0.75" fill="#1a1a1a"/><circle cx="0.8" cy="12.0" r="0.75" fill="#1a1a1a"/></g><ellipse cx="141.00" cy="58.10" rx="2.4" ry="2.9" transform="rotate(20 141.00 58.10)" fill="none" stroke="#555" stroke-width="0.8"/><text x="158.1" y="57.2" font-size="13.6" stroke="#111" stroke-width="0.35">3</text><g transform="translate(164.70,47.20)"><path d="M9.0,1.6C8.4,0.2 7.2,0.2 6.6,1.5L2.9,11.2C2.3,12.6 1.1,12.9 0.5,12.2M3.8,4.3H7.5" stroke="#1a1a1a" stroke-width="1.15" fill="none" stroke-linecap="round"/><circle cx="8.9" cy="1.8" r="0.75" fill="#1a1a1a"/><circle cx="0.8" cy="12.0" r="0.75" fill="#1a1a1a"/></g><ellipse cx="174.50" cy="58.10" rx="2.4" ry="2.9" transform="rotate(20 174.50 58.10)" fill="none" stroke="#555" stroke-width="0.8"/><text x="193.6" y="57.2" font-size="13.6" stroke="#111" stroke-width="0.35">4</text><g transform="translate(200.00,47.20)"><path d="M9.0,1.6C8.4,0.2 7.2,0.2 6.6,1.5L2.9,11.2C2.3,12.6 1.1,12.9 0.5,12.2M3.8,4.3H7.5" stroke="#1a1a1a" stroke-width="1.15" fill="none" stroke-linecap="round"/><circle cx="8.9" cy="1.8" r="0.75" fill="#1a1a1a"/><circle cx="0.8" cy="12.0" r="0.75" fill="#1a1a1a"/></g><ellipse cx="210.10" cy="58.10" rx="2.4" ry="2.9" transform="rotate(20 210.10 58.10)" fill="none" stroke="#555" stroke-width="0.8"/>
<g transform="translate(92.10,310.50)"><path d="M9.0,1.6C8.4,0.2 7.2,0.2 6.6,1.5L2.9,11.2C2.3,12.6 1.1,12.9 0.5,12.2M3.8,4.3H7.5" stroke="#1a1a1a" stroke-width="1.15" fill="none" stroke-linecap="round"/><circle cx="8.9" cy="1.8" r="0.75" fill="#1a1a1a"/><circle cx="0.8" cy="12.0" r="0.75" fill="#1a1a1a"/></g><ellipse cx="101.40" cy="321.40" rx="2.4" ry="2.9" transform="rotate(20 101.40 321.40)" fill="none" stroke="#555" stroke-width="0.8"/><text x="121.4" y="320.5" font-size="13.6" stroke="#111" stroke-width="0.35">2</text><g transform="translate(128.20,310.50)"><path d="M9.0,1.6C8.4,0.2 7.2,0.2 6.6,1.5L2.9,11.2C2.3,12.6 1.1,12.9 0.5,12.2M3.8,4.3H7.5" stroke="#1a1a1a" stroke-width="1.15" fill="none" stroke-linecap="round"/><circle cx="8.9" cy="1.8" r="0.75" fill="#1a1a1a"/><circle cx="0.8" cy="12.0" r="0.75" fill="#1a1a1a"/></g><ellipse cx="138.60" cy="321.40" rx="2.4" ry="2.9" transform="rotate(20 138.60 321.40)" fill="none" stroke="#555" stroke-width="0.8"/><text x="155.3" y="320.5" font-size="13.6" stroke="#111" stroke-width="0.35">3</text><g transform="translate(161.90,310.50)"><path d="M9.0,1.6C8.4,0.2 7.2,0.2 6.6,1.5L2.9,11.2C2.3,12.6 1.1,12.9 0.5,12.2M3.8,4.3H7.5" stroke="#1a1a1a" stroke-width="1.15" fill="none" stroke-linecap="round"/><circle cx="8.9" cy="1.8" r="0.75" fill="#1a1a1a"/><circle cx="0.8" cy="12.0" r="0.75" fill="#1a1a1a"/></g><ellipse cx="171.90" cy="321.40" rx="2.4" ry="2.9" transform="rotate(20 171.90 321.40)" fill="none" stroke="#555" stroke-width="0.8"/><text x="190.7" y="320.5" font-size="13.6" stroke="#111" stroke-width="0.35">4</text><g transform="translate(196.90,310.50)"><path d="M9.0,1.6C8.4,0.2 7.2,0.2 6.6,1.5L2.9,11.2C2.3,12.6 1.1,12.9 0.5,12.2M3.8,4.3H7.5" stroke="#1a1a1a" stroke-width="1.15" fill="none" stroke-linecap="round"/><circle cx="8.9" cy="1.8" r="0.75" fill="#1a1a1a"/><circle cx="0.8" cy="12.0" r="0.75" fill="#1a1a1a"/></g><ellipse cx="206.90" cy="321.40" rx="2.4" ry="2.9" transform="rotate(20 206.90 321.40)" fill="none" stroke="#555" stroke-width="0.8"/>
</g>
</svg>
</body></html>
